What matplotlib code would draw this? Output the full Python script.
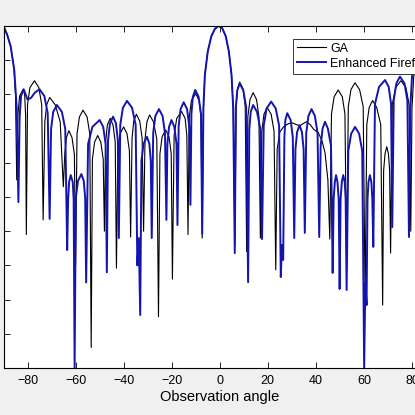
import matplotlib
matplotlib.use("Agg")
import matplotlib.pyplot as plt

# ---------- values (angle in deg, pattern in dB) ----------
ga_angle = [
    -90, -88.5, -87, -85.7, -85, -84.5,
    -84, -83.3, -81.8, -81.2, -80.8, -80.5,
    -80, -79, -77.1, -75.3, -74.1, -73.5,
    -72.8, -72, -70.8, -68.5, -66.4, -65.1,
    -64.5, -63.8, -62.8, -61.5, -60.5, -60,
    -59.4, -58.4, -56.9, -55.2, -54.1, -53.5,
    -53, -52.1, -50.8, -49.5, -48.5, -48,
    -47.5, -46.8, -45.6, -44.4, -43.5, -43,
    -42.4, -41.5, -40, -38.6, -37.6, -37.1,
    -36.5, -35.8, -34.7, -33.3, -32.3, -31.7,
    -31.1, -30.3, -29.2, -27.6, -26.2, -25.5,
    -24.9, -24, -22.5, -21.1, -20.2, -19.7,
    -19, -17.9, -15.9, -14.4, -13.7, -13.2,
    -12.7, -11.8, -10, -8.6, -7.8, -7.3,
    -6.8, -6.2, -5, -3.5, -2, -0.5, 1, 2.5, 3.8, 4.9, 5.6, 6.3,
    6.8, 7.4, 8.3, 9.7, 10.6, 11.2,
    11.7, 12.6, 13.9, 15.3, 16.3, 16.9,
    17.5, 18.4, 19.7, 21.4, 22.6, 23.3,
    23.9, 25, 26.5, 28.5, 30.1, 31.8, 33.3, 34.8, 36.1, 37.6, 39.2, 41,
    42.5, 43.8, 45, 45.8,
    46.5, 47.6, 49.3, 51, 52.1, 52.8,
    53.5, 54.6, 56.3, 58.2, 59.7, 60.5,
    61.2, 62.2, 63.6, 65.3, 67, 67.8,
    68.2, 68.8, 69.5, 70.2, 70.7, 71.1,
    71.8, 73.2, 75.4, 77.5, 78.8, 79.5,
    80, 80.7, 82, 84, 86.5, 90,
]
ga_db = [
    0, -2.5, -6, -12, -20, -45,
    -26, -20.5, -18.5, -20, -26, -61,
    -23, -18, -16, -18, -23, -56.7,
    -28, -23, -20.9, -23, -28, -47,
    -37.5, -32.6, -30.6, -32.6, -37.5, -70,
    -31.5, -26.6, -24.6, -26.6, -31.5, -94,
    -39, -34, -32, -34, -39, -60,
    -34, -29, -27, -29, -34, -70.8,
    -36.5, -31.5, -29.5, -31.5, -36.5, -61.7,
    -32.8, -27.8, -25.8, -27.8, -32.8, -60,
    -33, -28, -26, -28, -33, -85,
    -37.4, -32.4, -30.4, -32.4, -37.4, -74,
    -32, -27, -25, -27, -32, -61,
    -26.8, -21.8, -19.8, -21.8, -26.8, -62,
    -24, -14.3, -7.5, -3, -0.8, 0, -0.6, -3, -7.5, -14.3, -24, -64,
    -23.4, -18.4, -16.4, -18.4, -23.4, -66,
    -26.5, -21.5, -19.5, -21.5, -26.5, -62,
    -30.8, -25.8, -23.8, -25.8, -30.8, -71.3,
    -36, -31, -29.5, -28.6, -28.3, -28.8, -29.2, -28.5, -28, -28.8, -30.3, -31.2,
    -33.5, -37, -45, -62.3,
    -25.7, -20.7, -18.7, -20.7, -25.7, -70,
    -23.6, -18.6, -16.6, -18.6, -23.6, -80,
    -28.8, -23.8, -21.8, -23.8, -28.8, -81.6,
    -42.3, -37.3, -35.3, -37.3, -42.3, -66.4,
    -23, -18, -16, -18, -23, -60,
    -24, -15, -8, -3.5, -1, 0,
]

ef_angle = [
    -90, -88.5, -87, -85.5, -84.5, -83.8,
    -83.3, -82.7, -81.6, -80.8, -80, -78.5, -77, -75,
    -73, -71.6, -70.8,
    -70.2, -69.3, -67.8, -65.7, -64.3, -63.5,
    -63.1, -62.7, -62, -61.2, -60.8, -60.4,
    -59.9, -59, -57.6, -56.6, -56, -55.6,
    -54.8, -53, -50, -48.5, -47.5, -47,
    -46.5, -45.7, -44.4, -43.2, -42.4, -42,
    -41.4, -40.3, -38.6, -36.5, -35, -34.3,
    -33.7, -33.1,
    -32.6, -31.7, -30.3, -29.3, -28.7, -28.3,
    -27.7, -26.8, -25.3, -23.8, -22.8, -22.2,
    -21.8, -21.1, -20.1, -18.9, -18, -17.6,
    -17.1, -16.3, -15, -13.6, -12.7, -12.2,
    -11.8, -11.2, -10.2, -8.8, -7.8, -7.3,
    -6.8, -6.2, -5, -3.5, -2, -0.5, 1, 2.5, 3.8, 4.9, 5.6, 6.25,
    6.7, 7.3, 8.3, 9.8, 11, 11.8,
    12.3, 12.9, 13.9, 15.5, 16.9, 17.6,
    18.3, 19.5, 21.4, 23.3, 24.7, 25.4,
    25.9, 26.4,
    26.9, 27.3, 28.1, 29.5, 30.4, 31,
    31.5, 32.2, 33.2, 34.2, 34.9, 35.4,
    36, 36.9, 38.2, 39.6, 40.7, 41.4,
    42, 42.8, 43.8, 45, 46.3, 47,
    47.4, 47.9, 48.4, 49, 49.5, 49.9,
    50.3, 50.8, 51.4, 52, 52.4, 52.8,
    53.5, 54.7, 56.3, 58, 59.3, 60.1,
    60.6, 61.1,
    61.5, 61.9, 62.5, 63.1, 63.5, 63.9,
    64.6, 66.3, 68.8, 70.3, 71.3, 71.8,
    72.4, 73.5, 75, 76.9, 78.1, 78.75,
    79.3, 80, 81.5, 83.5, 86, 90,
]
ef_db = [
    0, -2.5, -6, -13, -24, -51.5,
    -27, -20.5, -18.5, -20, -21.5, -21, -19.5, -18.5,
    -20.5, -25.5, -56.4,
    -30.1, -25.1, -23.1, -25.1, -30.1, -65.5,
    -50.6, -45.6, -43.6, -45.6, -50.6, -100,
    -50.3, -45.3, -43.3, -45.3, -50.3, -75,
    -34.5, -29.5, -27.5, -29.5, -34.5, -72,
    -33.5, -28.5, -26.5, -28.5, -33.5, -62,
    -28.9, -23.9, -21.9, -23.9, -28.9, -70,
    -62, -84.5,
    -39.4, -34.4, -32.4, -34.4, -39.4, -62,
    -31.3, -26.3, -24.3, -26.3, -31.3, -56.7,
    -34.5, -29.5, -27.5, -29.5, -34.5, -58.2,
    -29.3, -24.3, -22.3, -24.3, -29.3, -52.3,
    -25.7, -20.7, -18.7, -20.7, -25.7, -60.8,
    -24, -14.3, -7.5, -3, -0.8, 0, -0.6, -3, -7.5, -14.3, -24, -66.4,
    -23.8, -18.8, -16.8, -18.8, -23.8, -74.9,
    -30.1, -25.1, -23.1, -25.1, -30.1, -62.3,
    -29.1, -24.1, -22.1, -24.1, -29.1, -73.4,
    -64, -68.4,
    -32.5, -27.5, -25.5, -27.5, -32.5, -62,
    -36, -31, -29, -31, -36, -60.5,
    -31.3, -26.3, -24.3, -26.3, -31.3, -61.7,
    -35, -30, -28, -30, -35, -72.2,
    -50.6, -45.6, -43.6, -45.6, -50.6, -76.9,
    -50.6, -45.6, -43.6, -45.6, -50.6, -77.2,
    -36.5, -31.5, -29.5, -31.5, -36.5, -100,
    -75, -81.6,
    -50.6, -45.6, -43.6, -45.6, -50.6, -64.6,
    -22.8, -17.8, -15.8, -17.8, -22.8, -58.8,
    -21.8, -16.8, -14.8, -16.8, -21.8, -61.7,
    -24, -15, -8, -3.5, -1, 0,
]

x_ticks = [-80, -60, -40, -20, 0, 20, 40, 60, 80]
y_ticks = [-100, -90, -80, -70, -60, -50, -40, -30, -20, -10, 0]
series_names = ["GA", "Enhanced Firefly"]

# ---------- figure ----------
plt.rcParams["font.family"] = ["Liberation Sans", "DejaVu Sans"]
fig = plt.figure(figsize=(4.15, 4.15), dpi=100, facecolor="#f0f0f0")
# the original screenshot crops the axes on the left and right
ax = fig.add_axes([3.5 / 415, 47 / 415, 432.5 / 415, 342 / 415])
ax.set_facecolor("white")

ax.plot(ga_angle, ga_db, color="black", lw=0.8, label=series_names[0])
ax.plot(ef_angle, ef_db, color="#1414b0", lw=1.4, label=series_names[1])

ax.set_xlim(-90, 90)
ax.set_ylim(-100, 0)
ax.set_xticks(x_ticks)
ax.set_yticks(y_ticks)
# y labels sit outside the cropped screenshot, so they are not drawn
ax.tick_params(direction="in", top=True, right=True, length=4, width=0.6,
               labelsize=9, pad=5, labelleft=False)
for sp in ax.spines.values():
    sp.set_linewidth(0.8)
ax.set_xlabel("Observation angle", fontsize=10.5, labelpad=2)

leg = ax.legend(loc="upper left", bbox_to_anchor=(293 / 415, 1 - 39 / 415),
                bbox_transform=fig.transFigure, fontsize=9, frameon=True,
                fancybox=False, framealpha=1, edgecolor="#333333",
                handlelength=2.3, handletextpad=0.35, labelspacing=0.25,
                borderpad=0.3, borderaxespad=0)
leg.get_frame().set_linewidth(0.7)

fig.savefig("out.png", dpi=100, facecolor=fig.get_facecolor())
